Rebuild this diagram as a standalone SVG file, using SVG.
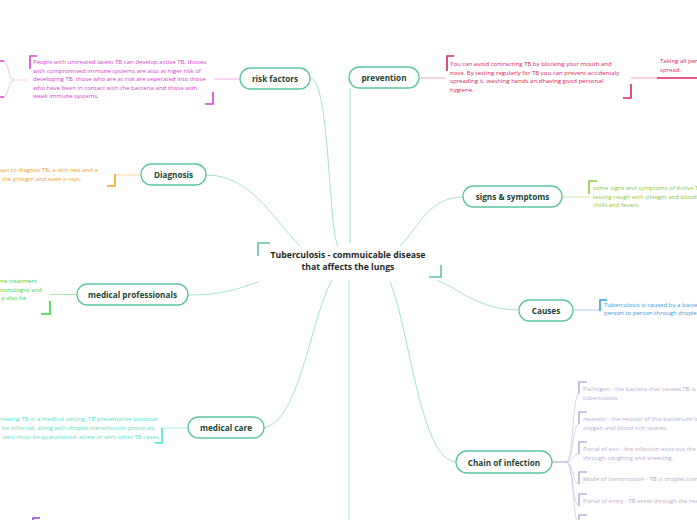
<svg xmlns="http://www.w3.org/2000/svg" width="697" height="520" viewBox="0 0 697 520">
<style>
.main{fill:none;stroke:#a9e2cf;stroke-width:1}
.t{font-family:"Open Sans","Noto Sans",sans-serif;font-size:6.05px}
.br{fill:none;stroke-width:1.6}
.nr{fill:#fff;stroke:#5cc4a2;stroke-width:1.3}
.nt{font-family:"Open Sans","Noto Sans",sans-serif;font-weight:700;font-size:8.2px;fill:#1d4637;text-anchor:middle}
.ct{font-family:"Open Sans","Noto Sans",sans-serif;font-weight:700;font-size:8.7px;fill:#1e2a28;text-anchor:middle}
</style>
<rect width="697" height="520" fill="#fff"/>
<g id="connectors">
<path class="main" d="M310,78 C330,78 328,228 338,246"/>
<path class="main" d="M350,88 C350,150 350,200 350,243"/>
<path class="main" d="M206,175 C250,175 270,215 300,246"/>
<path class="main" d="M463,197 C430,197 420,225 400,246"/>
<path class="main" d="M188,295 C220,295 235,290 258,282"/>
<path class="main" d="M519,310 C480,310 460,290 437,280"/>
<path class="main" d="M264,428 C300,420 310,320 332,280"/>
<path class="main" d="M456,462 C420,460 410,330 390,282"/>
<path class="main" d="M349,280 V520"/>
</g>
<g id="center">
<path d="M270,243 H258 V256" fill="none" stroke="#5cc4a2" stroke-width="1.6"/>
<path d="M441,265 V277 H429" fill="none" stroke="#5cc4a2" stroke-width="1.6"/>
<text class="ct" x="348" y="258">Tuberculosis - commuicable disease</text>
<text class="ct" x="348" y="270">that affects the lungs</text>
</g>
<g id="risk-factors">
<path d="M240,79 H214" stroke="#f4b0e8" stroke-width="1" fill="none"/>
<path class="br" d="M37,56 H30 V69" stroke="#e040c8"/>
<path class="br" d="M213,92 V104 H205" stroke="#e040c8"/>
<path d="M27,80 H14" stroke="#f0a8e4" stroke-width="0.8" stroke-dasharray="1,1" fill="none"/>
<path d="M14,80 C8,80 9,61 3,61 M14,80 C8,80 9,97 3,97" stroke="#f4b6ea" stroke-width="0.8" fill="none"/>
<path d="M0,61 H4 M0,97 H4" stroke="#e040c8" stroke-width="1.4"/>
<g class="t" fill="#d63ccb">
<text x="33" y="64">People with untreated latent TB can develop active TB, thoses</text>
<text x="33" y="72.5">with compromised immune systems are also at higer risk of</text>
<text x="33" y="81">developing TB. those who are at risk are seperated into those</text>
<text x="33" y="89.5">who have been in contact with the bacteria and those with</text>
<text x="33" y="98">weak immune systems.</text>
</g>
<rect class="nr" x="240" y="68" width="70" height="21" rx="10.5"/>
<text class="nt" x="275" y="82">risk factors</text>
</g>
<g id="prevention">
<path d="M419,78 H445" stroke="#f4a6bf" stroke-width="1" fill="none"/>
<path class="br" d="M454,56 H447 V71" stroke="#e0245e"/>
<path class="br" d="M631,84 V98 H623" stroke="#e0245e"/>
<path d="M631,78 H657" stroke="#f4a6bf" stroke-width="1" fill="none"/>
<path d="M657,78 H697" stroke="#e0245e" stroke-width="1.6" fill="none"/>
<g class="t" fill="#d9245f">
<text x="450" y="66">You can  avoid contracting TB by blocking your mouth and</text>
<text x="450" y="74.5">nose. By testing regularly for TB you can prevent accidentaly</text>
<text x="450" y="83.3">spreading it, washing hands an dhaving good personal</text>
<text x="450" y="92">hygiene.</text>
<text x="660" y="63">Taking all per</text>
<text x="660" y="72">spread.</text>
</g>
<rect class="nr" x="349" y="67" width="70" height="21" rx="10.5"/>
<text class="nt" x="384" y="81">prevention</text>
</g>
<g id="diagnosis">
<path d="M141,175 H115" stroke="#fbd7a0" stroke-width="1" fill="none"/>
<path class="br" d="M115,174 V186 H107" stroke="#f5a623"/>
<g class="t" fill="#f0a030">
<text x="0" y="172">ays to diagnos TB, a skin test and a</text>
<text x="2" y="180.5">the phlegm and even x-rays.</text>
</g>
<rect class="nr" x="141" y="164" width="65" height="21" rx="10.5"/>
<text class="nt" x="173.5" y="178">Diagnosis</text>
</g>
<g id="signs-symptoms">
<path d="M562,197 H589" stroke="#cde6a8" stroke-width="1" fill="none"/>
<path class="br" d="M597,181 H589 V194" stroke="#8cc63e"/>
<g class="t" fill="#8cc63e">
<text x="593" y="190">some signs and symptoms of Active T</text>
<text x="593" y="198.5">lasting cough with phlegm and blood,</text>
<text x="593" y="207">chills and fevers.</text>
</g>
<rect class="nr" x="463" y="186" width="99" height="21" rx="10.5"/>
<text class="nt" x="512.5" y="200">signs &amp; symptoms</text>
</g>
<g id="medical-professionals">
<path d="M77,294.5 H50" stroke="#a8eaa8" stroke-width="1" fill="none"/>
<path class="br" d="M50,301 V314 H41" stroke="#3ed43e"/>
<g class="t" fill="#3ed43e">
<text x="0" y="283">ne treatment</text>
<text x="0" y="291.5">nonologist and</text>
<text x="1.5" y="300">y also be</text>
</g>
<rect class="nr" x="77" y="284" width="111" height="21" rx="10.5"/>
<text class="nt" x="132.5" y="298">medical professionals</text>
</g>
<g id="causes">
<path d="M573,310 H600" stroke="#a8d4f0" stroke-width="1" fill="none"/>
<path class="br" d="M607,300 H600 V311" stroke="#2d9ee0"/>
<g class="t" fill="#2d9ee0">
<text x="604" y="306.5">Tuberculosis is caused by a bacter</text>
<text x="604" y="315">person to person through droplet</text>
</g>
<rect class="nr" x="519" y="300" width="54" height="21" rx="10.5"/>
<text class="nt" x="546" y="314">Causes</text>
</g>
<g id="medical-care">
<path d="M188,428 H162" stroke="#a8f0e6" stroke-width="1" fill="none"/>
<path class="br" d="M162,428 V443 H155" stroke="#3ee8d0"/>
<g class="t" fill="#4fe3cc">
<text x="0" y="421">reating TB in a medical setting, TB preventative protocal</text>
<text x="2" y="430">be inforced, along with droplet transmission protocals.</text>
<text x="2" y="439">tient must be quarantined, alone or with other TB cases.</text>
</g>
<rect class="nr" x="188" y="417" width="76" height="21" rx="10.5"/>
<text class="nt" x="226" y="431">medical care</text>
</g>
<g id="chain-of-infection">
<g fill="none" stroke="#cfcae8" stroke-width="0.8">
<path d="M552,462 H566 C574,462 572,394 579,394"/>
<path d="M552,462 H566 C574,462 572,424 579,424"/>
<path d="M552,462 H566 C574,462 572,454 579,454"/>
<path d="M552,462 H566 C574,462 572,484 579,484"/>
<path d="M552,462 H566 C574,462 572,506 579,506"/>
<path d="M552,462 H566 C574,462 572,520 579,525"/>
</g>
<g class="br" stroke="#b8b2dc">
<path d="M587,382 H579 V394"/>
<path d="M587,412 H579 V424"/>
<path d="M587,442 H579 V454"/>
<path d="M587,472 H579 V484"/>
<path d="M587,494 H579 V506"/>
<path d="M587,515 H579 V527"/>
</g>
<g class="t" fill="#b3aecf">
<text x="583" y="391">Pathogen - the bactera that causes TB is</text>
<text x="583" y="400">tuberculosis</text>
<text x="583" y="421">resevoir - the resivoir of this bacterium is</text>
<text x="583" y="430">oxygen and blood rich spaces.</text>
<text x="583" y="451">Portal of exit - the infection exits out the r</text>
<text x="583" y="460">through coughing and sneezing.</text>
<text x="583" y="481">Mode of transmission - TB is droplet tran</text>
<text x="583" y="503">Portal of  entry - TB enter through the res</text>
</g>
<rect class="nr" x="456" y="451" width="96" height="22" rx="11"/>
<text class="nt" x="504" y="465.5">Chain of infection</text>
</g>
<g id="bottom-left">
<path d="M40,518 H33 V520" fill="none" stroke="#a040e0" stroke-width="1.6"/>
</g>
</svg>
